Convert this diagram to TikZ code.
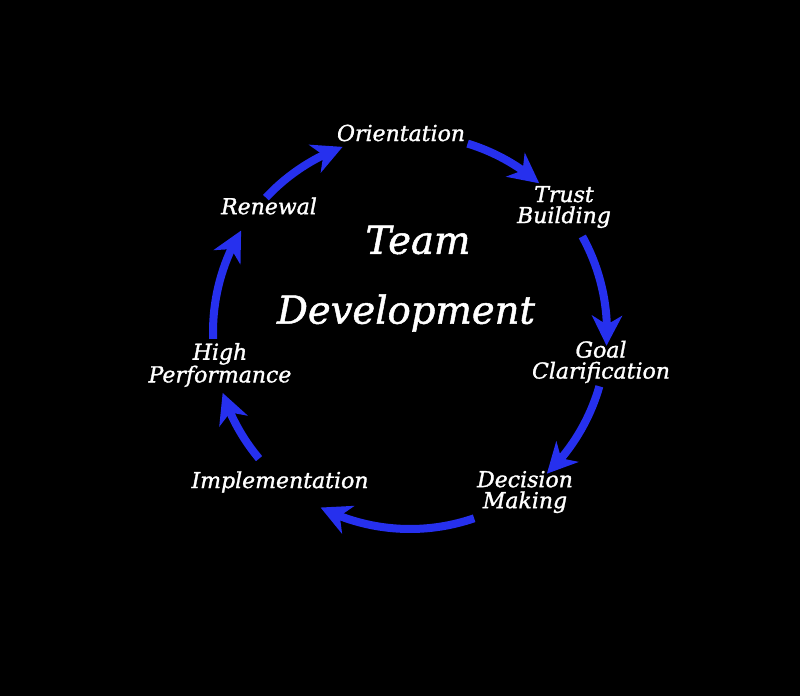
\documentclass[tikz,border=0pt]{standalone}
\usepackage{fontspec}
\setmainfont{DejaVu Serif}[ItalicFeatures={FakeBold=1.3}]
\usepackage{tikz}
\usetikzlibrary{arrows.meta,bending}
\definecolor{cycblue}{RGB}{38,48,238}

\begin{document}
\begin{tikzpicture}[x=1pt, y=1pt,
    flow/.style={line width=8pt, cycblue, -{Stealth[length=30pt, width=30pt, inset=9pt]}},
    lbl/.style={text=white, font=\itshape\fontsize{22}{21}\selectfont, align=center, inner sep=0pt},
    ttl/.style={text=white, font=\itshape\fontsize{38.5}{38}\selectfont, inner sep=0pt}]
    % background
    \fill[black] (0,0) rectangle (800,696);
    \useasboundingbox (0,0) rectangle (800,696);
    \coordinate (ctr) at (410,364);
    % title
    \node[ttl] (team) at (418,456) {Team};
    \node[ttl] (dev) at (406,383) {Development};
    % stages
    \node[lbl] (orient) at (401,563) {Orientation};
    \node[lbl] (trust) at (564,489) {Trust\\Building};
    \node[lbl] (goal) at (601,334) {Goal\\Clarification};
    \node[lbl] (decide) at (525,204) {Decision\\Making};
    \node[lbl] (impl) at (280,214) {Implementation};
    \node[lbl] (high) at (220,331) {High\\Performance};
    \node[lbl] (renew) at (269,490) {Renewal};
    % arrows round the cycle
    \foreach \s/\e in {137/110, 73/49, 29/-4, -16/-46, -71/-117, 220/198, 182/149}
        \draw[flow] (ctr) ++(\s:197) arc[start angle=\s, end angle=\e, radius=197];
\end{tikzpicture}
\end{document}
